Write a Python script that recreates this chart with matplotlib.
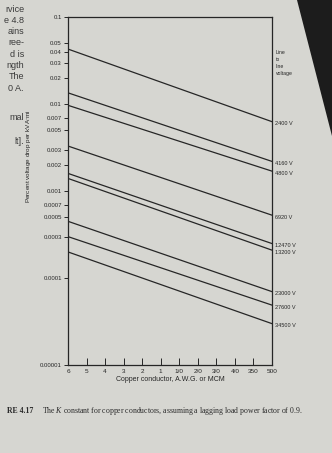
import matplotlib
matplotlib.use("Agg")
import matplotlib.pyplot as plt
from matplotlib.patches import Polygon

# conductor sizes along the x axis (evenly spaced categories)
CONDUCTORS = ["6", "5", "4", "3", "2", "1", "1/0", "2/0", "3/0", "4/0", "350", "500"]

# line-to-line voltages and K constant at the smallest / largest conductor
VOLTAGES = ["2400 V", "4160 V", "4800 V", "6920 V", "12470 V",
            "13200 V", "23000 V", "27600 V", "34500 V"]
K_AT_6 = [0.043, 0.0135, 0.0097, 0.0033, 0.0016, 0.0014, 0.00045, 0.0003, 0.0002]
K_AT_500 = [0.0063, 0.0022, 0.0017, 0.00053, 0.00025, 0.00021, 0.00007, 0.000049, 0.00003]

Y_TICKS = [0.1, 0.05, 0.04, 0.03, 0.02, 0.01, 0.007, 0.005, 0.003, 0.002,
           0.001, 0.0007, 0.0005, 0.0003, 0.0001, 0.00001]
Y_TICK_LABELS = ["0.1", "0.05", "0.04", "0.03", "0.02", "0.01", "0.007", "0.005",
                 "0.003", "0.002", "0.001", "0.0007", "0.0005", "0.0003",
                 "0.0001", "0.00001"]

PAGE_FRAGMENTS = ["rvice", "e 4.8", "ains", "ree-", "d is", "ngth", "The", "0 A."]

PAPER = "#d6d6d1"
INK = "#262626"

plt.rcParams["font.family"] = ["Liberation Sans", "DejaVu Sans"]
plt.rcParams["mathtext.fontset"] = "custom"
plt.rcParams["mathtext.it"] = "Liberation Serif:italic"

fig = plt.figure(figsize=(3.32, 4.53), dpi=100)
fig.patch.set_facecolor(PAPER)

# dark background showing past the page edge (top right)
fig.patches.append(Polygon([[0.895, 1.0], [1.0, 1.0], [1.0, 0.70]],
                           closed=True, transform=fig.transFigure,
                           facecolor="#1c1c1c", edgecolor="none"))

ax = fig.add_axes([0.205, 0.194, 0.614, 0.768])
ax.set_facecolor(PAPER)
ax.set_yscale("log")
ax.set_ylim(0.00001, 0.1)
ax.set_xlim(0, len(CONDUCTORS) - 1)

x_start = CONDUCTORS.index("6")
x_end = CONDUCTORS.index("500")
for volt, k0, k1 in zip(VOLTAGES, K_AT_6, K_AT_500):
    ax.plot([x_start, x_end], [k0, k1], color=INK, lw=0.9)
    ax.annotate(volt, xy=(x_end, k1), xytext=(2.5, -1.5),
                textcoords="offset points", fontsize=4.0, color=INK,
                va="center", ha="left", annotation_clip=False)

ax.text(1.02, 0.905, "Line\nto\nline\nvoltage", transform=ax.transAxes,
        fontsize=3.7, color=INK, va="top", ha="left", linespacing=1.5)

ax.set_yticks(Y_TICKS)
ax.set_yticklabels(Y_TICK_LABELS)
ax.yaxis.set_minor_locator(matplotlib.ticker.NullLocator())
ax.tick_params(axis="y", direction="out", length=3, width=0.7,
               labelsize=4.3, colors=INK, pad=1.5)

ax.set_xticks(range(len(CONDUCTORS)))
ax.set_xticklabels(CONDUCTORS)
ax.tick_params(axis="x", direction="in", length=5, width=0.7,
               labelsize=4.6, colors=INK, pad=2.5)

for side in ax.spines.values():
    side.set_color(INK)
    side.set_linewidth(0.9)

ax.set_xlabel("Copper conductor, A.W.G. or MCM", fontsize=5, color=INK, labelpad=2)
ax.set_ylabel("Percent voltage drop per kVA$\\cdot$mi", fontsize=4.6, color=INK)
ax.yaxis.set_label_coords(-0.17, 0.6)

# bits of the facing column of text that were cut off by the photo
for i, frag in enumerate(PAGE_FRAGMENTS):
    fig.text(24 / 332, 1 - (9 + 11.3 * i) / 453, frag, fontsize=6.5,
             color="#3a3a3a", ha="right", va="center")
fig.text(24 / 332, 1 - 118 / 453, "mal", fontsize=6.5, color="#3a3a3a",
         ha="right", va="center")
fig.text(24 / 332, 1 - 142 / 453, "lt].", fontsize=6.5, color="#3a3a3a",
         ha="right", va="center")

fig.text(7 / 332, 1 - 411 / 453, "RE 4.17", fontsize=5.6,
         family="Liberation Serif", weight="bold", color="#2a2a2a",
         ha="left", va="center")
fig.text(42 / 332, 1 - 411 / 453,
         "The $K$ constant for copper conductors, assuming a lagging load power factor of 0.9.",
         fontsize=5.6, family="Liberation Serif", color="#2a2a2a",
         ha="left", va="center")

fig.savefig("out.png", dpi=100, facecolor=fig.get_facecolor())
